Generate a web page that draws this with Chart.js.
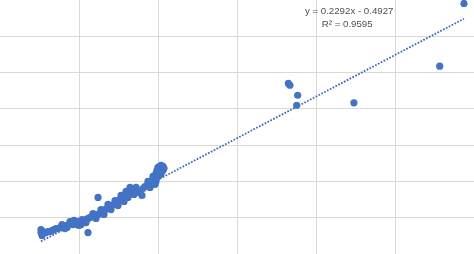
<!DOCTYPE html>
<html>
<head>
<meta charset="utf-8">
<script src="https://cdn.jsdelivr.net/npm/chart.js@4/dist/chart.umd.min.js"></script>
<style>
html,body{margin:0;padding:0;background:#fff;}
#wrap{width:474px;height:254px;}
</style>
</head>
<body>
<div id="wrap"><canvas id="c" width="474" height="254"></canvas></div>
<script>
// Data
const xValues = [5.19,5.19,5.32,5.44,5.82,6.08,6.33,6.58,6.84,7.09,7.34,7.59,7.85,8.10,8.35,8.48,8.73,8.99,9.11,9.37,9.49,9.75,10.0,10.25,10.51,10.76,10.89,11.14,11.14,11.39,11.65,11.90,12.15,12.41,12.41,12.66,12.91,13.16,13.29,13.54,13.80,13.92,14.18,14.43,14.68,14.81,15.06,15.19,15.44,15.70,15.82,16.08,16.33,16.46,16.46,16.58,16.84,17.09,17.34,17.59,17.97,18.10,18.35,18.61,18.86,19.11,19.24,19.49,19.62,19.75,19.87,20.0,20.13,20.25,20.38,20.51,20.63,19.87,
  12.78,13.16,13.67,14.05,14.56,14.94,15.32,15.70,15.95,16.20,16.71,16.96,17.22,7.85,8.23,8.86,9.24,9.87,10.38,10.89,11.77,12.15,18.73,18.99,19.37,19.75,20.0,20.25,20.38,20.63,20.76,19.62,
  36.5,36.7,37.68,37.56,44.8,55.66,58.73];
const yValues = [1.35,1.18,1.02,1.24,1.18,1.24,1.24,1.29,1.35,1.40,1.40,1.46,1.46,1.51,1.57,1.46,1.62,1.68,1.79,1.85,1.73,1.62,1.57,1.62,1.73,1.79,1.90,1.18,1.96,2.01,2.07,2.07,2.12,3.12,2.18,2.23,2.29,2.34,2.45,2.51,2.56,2.67,2.67,2.73,2.78,2.90,2.95,3.01,3.06,3.12,3.23,3.28,3.34,3.50,3.67,3.39,3.39,3.45,3.50,3.39,3.23,3.61,3.72,3.78,3.83,3.89,4.06,4.17,4.28,4.44,4.61,4.77,4.50,4.83,4.88,4.72,4.61,4.22,
  2.45,2.18,2.73,2.45,2.95,2.67,3.23,2.90,3.45,3.12,3.56,3.28,3.67,1.62,1.40,1.79,1.62,1.79,1.90,1.73,2.23,1.96,4.00,3.67,4.28,4.00,4.33,4.61,4.39,4.83,4.72,3.83,
  9.40,9.30,8.75,8.20,8.33,10.35,13.81];
const trendSlope = 0.2292;
const trendIntercept = -0.4927;
const equationLabel = "y = 0.2292x - 0.4927";
const r2Label = "R² = 0.9595";
const xTicks = [0,10,20,30,40,50,60];
const yTicks = [0,2,4,6,8,10,12,14];

const points = xValues.map((x,i)=>({x:x,y:yValues[i]}));
const xMin = Math.min(...xValues), xMax = Math.max(...xValues);
const trend = [xMin,xMax].map(x=>({x:x,y:trendSlope*x+trendIntercept}));

const labelPlugin = {
  id:'eqLabel',
  afterDatasetsDraw(chart){
    const ctx = chart.ctx;
    const xs = chart.scales.x, ys = chart.scales.y;
    const cx = xs.getPixelForValue(44.2);
    ctx.save();
    ctx.fillStyle = '#505050';
    ctx.font = '9.7px "Liberation Sans", Arial, sans-serif';
    ctx.textAlign = 'center';
    ctx.textBaseline = 'middle';
    ctx.fillText(equationLabel, cx, ys.getPixelForValue(13.38));
    ctx.fillText(r2Label, cx - 2, ys.getPixelForValue(12.66));
    ctx.restore();
  }
};

const hideEdge = (lo,hi)=> (c)=> (c.tick && (c.tick.value===lo || c.tick.value===hi)) ? 'rgba(0,0,0,0)' : '#d9d9d9';

new Chart(document.getElementById('c'), {
  type:'scatter',
  data:{
    datasets:[
      {data:points, backgroundColor:'#4472C4', borderWidth:0, pointRadius:3.6, pointHoverRadius:3.6, clip:false},
      {data:trend, showLine:true, borderColor:'#3F69B5', borderWidth:1.8, borderDash:[1.7,1.5], pointRadius:0, fill:false, clip:false}
    ]
  },
  options:{
    responsive:false,
    animation:false,
    devicePixelRatio:1,
    layout:{padding:0, autoPadding:false},
    plugins:{legend:{display:false}, tooltip:{enabled:false}},
    scales:{
      x:{type:'linear', min:0, max:60,
         afterBuildTicks:(s)=>{s.ticks = xTicks.map(v=>({value:v}));},
         ticks:{display:false}, border:{display:false},
         grid:{color:hideEdge(0,60), lineWidth:1, drawTicks:false}},
      y:{type:'linear', min:0, max:14,
         afterBuildTicks:(s)=>{s.ticks = yTicks.map(v=>({value:v}));},
         ticks:{display:false}, border:{display:false},
         grid:{color:hideEdge(0,14), lineWidth:1, drawTicks:false}}
    }
  },
  plugins:[labelPlugin]
});
</script>
</body>
</html>
